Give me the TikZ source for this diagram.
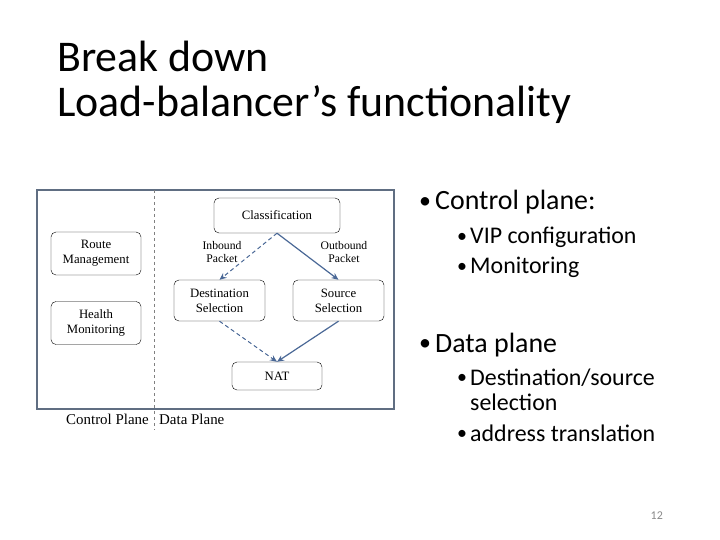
\documentclass[tikz,border=0pt]{standalone}
\usepackage{fontspec}
\setmainfont{Carlito}
\newfontfamily\figfont{Liberation Serif}
\usetikzlibrary{arrows.meta}
\definecolor{arrowBlue}{RGB}{74, 104, 150}
\definecolor{frameGray}{RGB}{96, 110, 130}
\definecolor{pageGray}{RGB}{137, 137, 137}
\newcommand{\bulone}{\makebox[16bp][l]{\fontsize{24}{24}\selectfont\raisebox{1.5bp}{•}}}
\newcommand{\bultwo}{\makebox[13bp][l]{\fontsize{20}{20}\selectfont\raisebox{1.5bp}{•}}}

\begin{document}
\begin{tikzpicture}[x=1bp, y=-1bp,
    block/.style={draw, rounded corners=5bp, minimum width=90bp, minimum height=42bp,
      align=center, inner sep=1bp, font=\figfont\fontsize{12.8}{15}\selectfont},
    tag/.style={align=center, inner sep=0pt, font=\figfont\fontsize{11.7}{14}\selectfont},
    plane/.style={inner sep=0pt, font=\figfont\fontsize{15}{16}\selectfont},
    flow/.style={arrowBlue, line width=1.2bp, -{Stealth[length=7bp, width=6bp]}},
    flowdash/.style={flow, line width=1bp, dash pattern=on 4bp off 3bp},
    lvlone/.style={anchor=base west, inner sep=0pt, font=\fontsize{28}{34}\selectfont},
    lvltwo/.style={anchor=base west, inner sep=0pt, align=left, font=\fontsize{24}{25}\selectfont}]
  \useasboundingbox (0,0) rectangle (720,540);

  % title
  \node[anchor=base west, inner sep=0pt, align=left, font=\fontsize{44}{46}\selectfont]
    (title) at (57,117) {Break down\\Load-balancer’s functionality};

  % diagram
  \draw[frameGray, line width=1.5bp] (37,190) rectangle (394,409);
  \coordinate (divtop) at (154,190);
  \coordinate (divbot) at (154,430);
  \draw[gray, dashed, thin] (divtop) -- (divbot);

  \node[block, minimum width=126bp, minimum height=35bp] (cls) at (277,215.5) {Classification};
  \node[block, minimum height=43bp] (route) at (96,253.5) {Route\\Management};
  \node[block, minimum height=43bp] (health) at (96,323) {Health\\Monitoring};
  \node[block, minimum width=91bp, minimum height=41bp] (dst) at (219.5,300.5) {Destination\\Selection};
  \node[block, minimum width=91bp, minimum height=41bp] (src) at (338.5,300.5) {Source\\Selection};
  \node[block, minimum height=28bp] (nat) at (277,376) {NAT};

  \node[tag] (inb) at (222,252) {Inbound\\Packet};
  \node[tag] (outb) at (344,252) {Outbound\\Packet};

  \draw[flowdash] (cls.south) -- (dst.north);
  \draw[flow] (cls.south) -- (src.north);
  \draw[flowdash] (dst.south) -- (nat.north);
  \draw[flow] (src.south) -- (nat.north);

  \node[plane, anchor=base east] (cplane) at (149,424) {Control Plane};
  \node[plane, anchor=base west] (dplane) at (159,424) {Data Plane};

  % bullets
  \node[lvlone] (ctrl) at (419,210) {\bulone Control plane:};
  \node[lvltwo] (vip) at (457,244) {\bultwo VIP configuration};
  \node[lvltwo] (mon) at (457,274) {\bultwo Monitoring};
  \node[lvlone] (data) at (419,352) {\bulone Data plane};
  \node[lvltwo] (sel) at (457,410) {\bultwo Destination/source\\\hspace*{13bp}selection};
  \node[lvltwo] (nat2) at (457,441) {\bultwo address translation};

  \node[anchor=base east, inner sep=0pt, text=pageGray, font=\fontsize{12}{14}\selectfont]
    (pgno) at (663,519) {12};
\end{tikzpicture}
\end{document}
